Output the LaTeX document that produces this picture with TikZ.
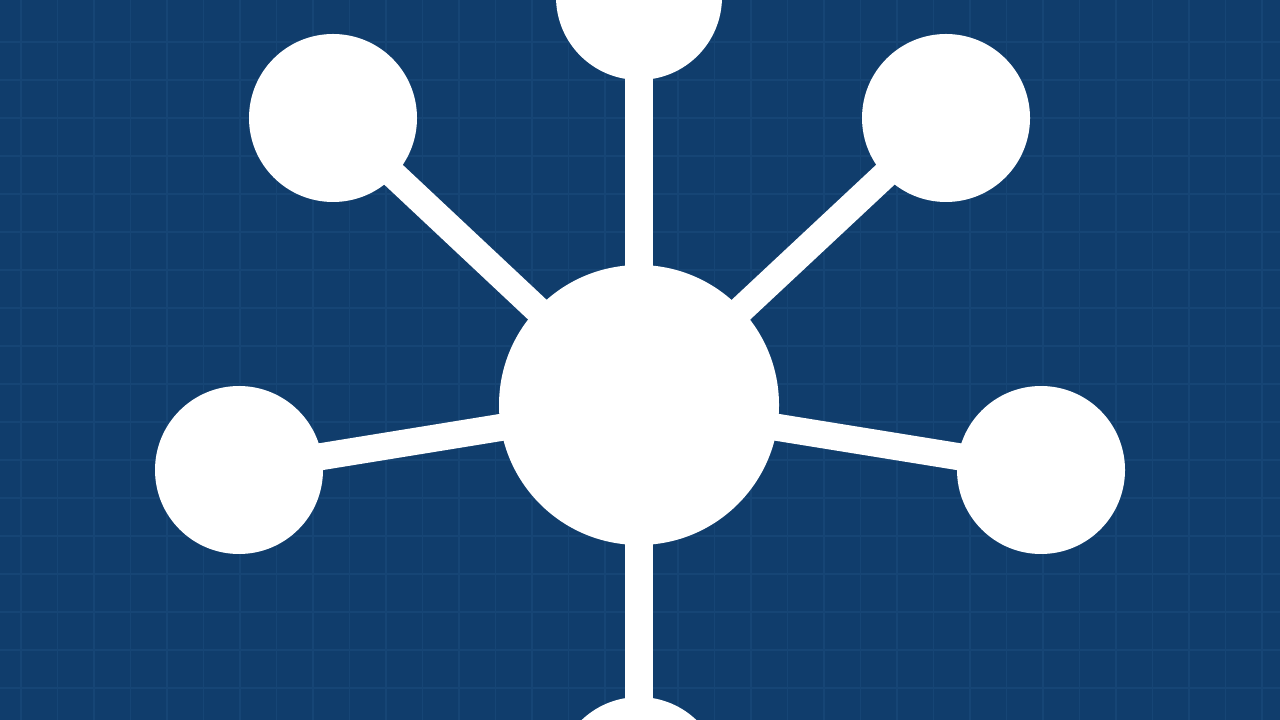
\documentclass[tikz,border=0pt]{standalone}
\usepackage{tikz}
\usetikzlibrary{positioning}
\tikzset{arista/.style={line width=7.7pt, draw=white}}
\tikzset{reja/.style={line width=0.5pt, draw=gridazul}}
\definecolor{fondoazul}{RGB}{16,61,108}
\definecolor{gridazul}{RGB}{22,69,117}

\begin{document}
\begin{tikzpicture}[scale = 1, every node/.style={circle, fill=white, inner sep=0pt}]
            % fondo y reja
            \fill[fondoazul] (0,0) rectangle (12.8,-7.2);
            \useasboundingbox (0,0) rectangle (12.8,-7.2);
            \clip (0,0) rectangle (12.8,-7.2);
            \foreach \x in {0.21,0.575,...,12.8} \draw[reja] (\x,0) -- (\x,-7.2);
            \foreach \y in {-0.42,-0.80,...,-7.2} \draw[reja] (0,\y) -- (12.8,\y);

            \node[minimum size=28mm] (centro) at (6.39,-4.05) {};
            \node[minimum size=16.6mm] (arriba) at (6.39,0.03) {};
            \node[minimum size=16.6mm] (abajo) at (6.39,-7.80) {};
            \node[minimum size=16.8mm] (arribaizq) at (3.33,-1.18) {};
            \node[minimum size=16.8mm] (arribader) at (9.46,-1.18) {};
            \node[minimum size=16.8mm] (izq) at (2.39,-4.70) {};
            \node[minimum size=16.8mm] (der) at (10.41,-4.70) {};

            \draw[arista] (centro.center) to (arriba.center);
            \draw[arista] (centro.center) to (abajo.center);
            \draw[arista] (centro.center) to (arribaizq.center);
            \draw[arista] (centro.center) to (arribader.center);
            \draw[arista] (centro.center) to (izq.center);
            \draw[arista] (centro.center) to (der.center);
        \end{tikzpicture}
\end{document}
